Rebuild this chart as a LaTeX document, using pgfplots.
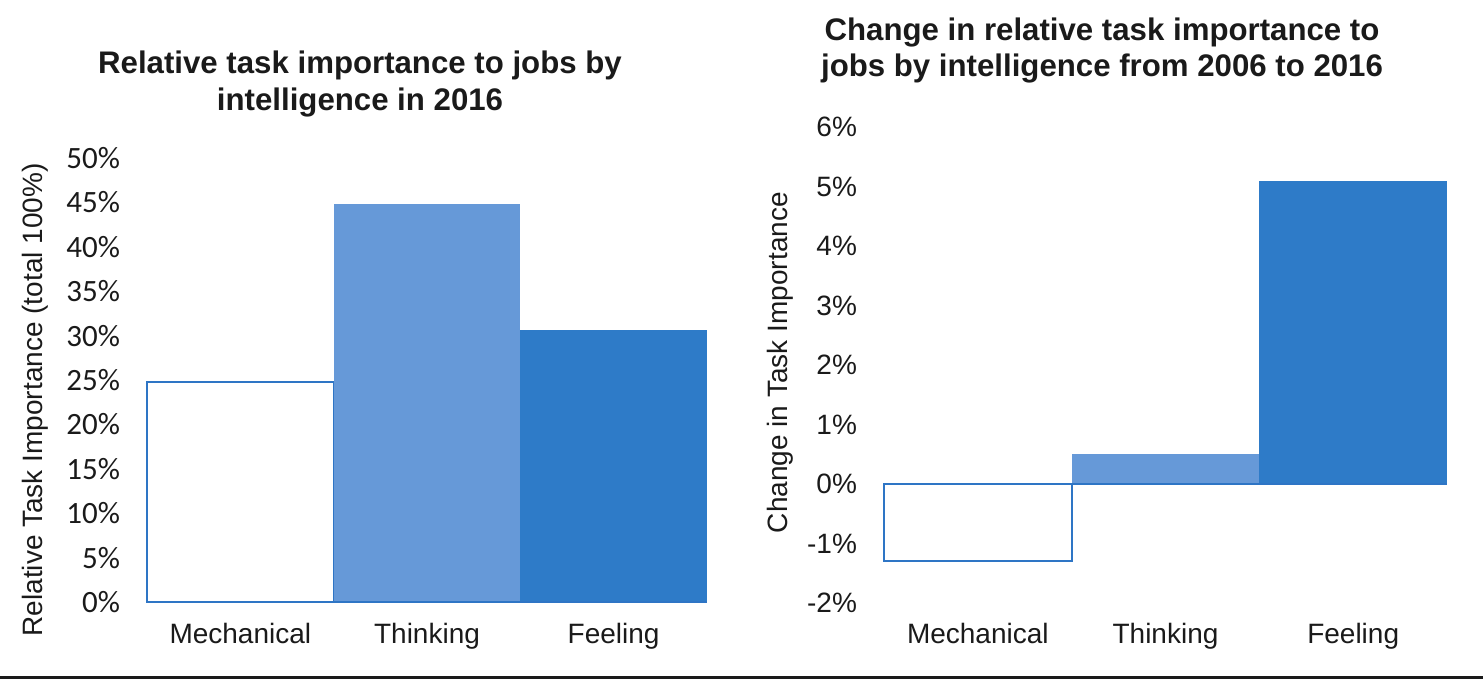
\documentclass[border=0pt]{standalone}
\usepackage{pgfplots}
\pgfplotsset{compat=1.18}
\usepackage{fontspec}
\setmainfont{Liberation Sans}
\newfontfamily\carlito{Carlito}
\definecolor{edgeblue}{RGB}{46,117,197}
\definecolor{lightblue}{RGB}{102,153,216}
\definecolor{darkblue}{RGB}{46,123,200}
\definecolor{txt}{RGB}{26,26,26}

\pgfplotstableread{
x y
0 24.8
}\leftmech
\pgfplotstableread{
x y
1 44.8
}\leftthink
\pgfplotstableread{
x y
2 30.6
}\leftfeel
\pgfplotstableread{
x y
0 -1.3
}\rightmech
\pgfplotstableread{
x y
1 0.5
}\rightthink
\pgfplotstableread{
x y
2 5.1
}\rightfeel

\pgfplotsset{
  common/.style={
    scale only axis,
    ybar, bar width=1, bar shift=0pt,
    xmin=-0.5, xmax=2.5,
    xtick={0,1,2},
    xticklabels={Mechanical,Thinking,Feeling},
    axis line style={draw=none},
    major tick length=0pt,
    x tick label style={font=\fontsize{14}{16}\selectfont, text=txt, anchor=base},
    y tick label style={text=txt, anchor=east},
    ylabel style={font=\fontsize{14}{16}\selectfont, text=txt, anchor=center, rotate=0},
    clip=false,
  },
}

\begin{document}
\begin{tikzpicture}
\path[use as bounding box] (0,0) rectangle (741.5pt,339.5pt);

% Left chart
\begin{axis}[common,
  at={(73.5pt,38.5pt)}, anchor=south west,
  width=280pt, height=222pt,
  ymin=0, ymax=50,
  ytick={0,5,...,50},
  yticklabels={0\%,5\%,10\%,15\%,20\%,25\%,30\%,35\%,40\%,45\%,50\%},
  y tick label style={font=\carlito\fontsize{15.5}{17}\selectfont, xshift=-10pt},
  x tick label style={yshift=-21pt},
  ylabel={Relative Task Importance (total 100\%)},
  ylabel style={at={(axis description cs:-0.2,0.455)}},
]
\addplot[fill=white, draw=edgeblue, line width=1pt] table[x=x,y=y] {\leftmech};
\addplot[fill=lightblue, draw=none] table[x=x,y=y] {\leftthink};
\addplot[fill=darkblue, draw=none] table[x=x,y=y] {\leftfeel};
\draw[edgeblue, line width=1pt] (axis cs:-0.5,0) -- (axis cs:2.5,0);
\end{axis}

% Right chart
\begin{axis}[common,
  at={(442pt,38pt)}, anchor=south west,
  width=281.5pt, height=238pt,
  ymin=-2, ymax=6,
  ytick={-2,-1,0,1,2,3,4,5,6},
  yticklabels={-2\%,-1\%,0\%,1\%,2\%,3\%,4\%,5\%,6\%},
  y tick label style={font=\fontsize{14}{16}\selectfont, xshift=-10pt},
  x tick label style={yshift=-20.5pt},
  ylabel={Change in Task Importance},
  ylabel style={at={(axis description cs:-0.185,0.505)}},
]
\addplot[fill=white, draw=edgeblue, line width=1pt] table[x=x,y=y] {\rightmech};
\addplot[fill=lightblue, draw=none] table[x=x,y=y] {\rightthink};
\addplot[fill=darkblue, draw=none] table[x=x,y=y] {\rightfeel};
\draw[edgeblue, line width=1pt] (axis cs:-0.5,0) -- (axis cs:2.5,0);
\end{axis}

% Titles
\node[anchor=base, text=txt, font=\bfseries\fontsize{15.6}{18}\selectfont, inner sep=0pt] at (180pt,302.5pt) {Relative task importance to jobs by};
\node[anchor=base, text=txt, font=\bfseries\fontsize{15.6}{18}\selectfont, inner sep=0pt] at (180pt,284pt) {intelligence in 2016};
\node[anchor=base, text=txt, font=\bfseries\fontsize{15.6}{18}\selectfont, inner sep=0pt] at (551pt,319pt) {Change in relative task importance to};
\node[anchor=base, text=txt, font=\bfseries\fontsize{15.6}{18}\selectfont, inner sep=0pt] at (551pt,301pt) {jobs by intelligence from 2006 to 2016};

% bottom rule
\fill[txt] (0,0) rectangle (741.5pt,1.6pt);
\end{tikzpicture}
\end{document}
